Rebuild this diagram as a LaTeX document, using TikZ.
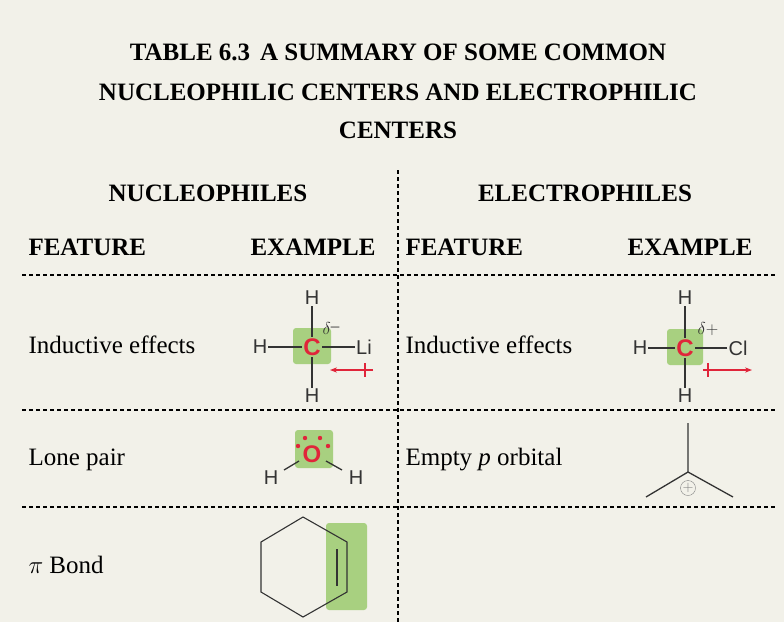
\documentclass[tikz,border=0pt]{standalone}
\usepackage{fontspec}
\setmainfont{Liberation Serif}
\newfontfamily\sans{Liberation Sans}
\usetikzlibrary{arrows.meta}
\definecolor{bg}{HTML}{F2F1E9}
\definecolor{gr}{HTML}{A8D080}
\definecolor{rd}{HTML}{E0253A}
\definecolor{bd}{HTML}{333333}
\begin{document}
\begin{tikzpicture}[x=1pt,y=-1pt,
  dsh/.style={black,line width=1.2pt,dash pattern=on 4pt off 3pt},
  title/.style={font=\bfseries\fontsize{25}{28}\selectfont},
  head/.style={font=\bfseries\fontsize{25}{28}\selectfont},
  txt/.style={font=\fontsize{25}{28}\selectfont,anchor=west},
  atm/.style={font=\sans\fontsize{20}{22}\selectfont,text=bd,inner sep=1pt},
  cat/.style={font=\sans\bfseries\fontsize{24}{26}\selectfont,text=rd,inner sep=1pt},
  bond/.style={bd,line width=1.3pt},
  glow/.style={fill=gr,rounded corners=3pt}]
\useasboundingbox (0,0) rectangle (784,622);
\fill[bg] (0,0) rectangle (784,622);
\node[title] (t1) at (398,52) {TABLE 6.3\hspace{10pt}A SUMMARY OF SOME COMMON};
\node[title] (t2) at (398,92) {NUCLEOPHILIC CENTERS AND ELECTROPHILIC};
\node[title] (t3) at (398,130) {CENTERS};
\node[head] (hn) at (208,193) {NUCLEOPHILES};
\node[head] (he) at (585,193) {ELECTROPHILES};
\node[head,anchor=west] (f1) at (25,247) {FEATURE};
\node[head] (e1) at (313,247) {EXAMPLE};
\node[head,anchor=west] (f2) at (402,247) {FEATURE};
\node[head] (e2) at (690,247) {EXAMPLE};
\draw[dsh] (22,275) -- (775,275);
\draw[dsh] (22,410) -- (775,410);
\draw[dsh] (22,507) -- (775,507);
\draw[dsh] (398,170) -- (398,622);
\node[txt] (r1) at (25,345) {Inductive effects};
\node[txt] (r2) at (25,460) {Lone pair};
\node[txt] (r3) at (25,565) {$\pi$ Bond};
\node[txt] (r4) at (402,345) {Inductive effects};
\node[txt] (r5) at (402,460) {Empty \textit{p} orbital};
% molecule 1
\fill[glow] (293,328) rectangle (331,364);
\node[cat] (c1) at (312,347) {C};
\node[atm] (h1t) at (312,298) {H};
\node[atm] (h1b) at (312,396) {H};
\node[atm] (h1l) at (260,347) {H};
\node[atm] (li) at (364,347) {Li};
\draw[bond] (h1t) -- (c1); \draw[bond] (h1b) -- (c1);
\draw[bond] (h1l) -- (c1); \draw[bond] (li) -- (c1);
\node[atm,font=\fontsize{17}{18}\selectfont] (d1) at (331,328) {$\delta$\raisebox{3pt}{--}};
\coordinate (a1s) at (373,370); \coordinate (a1e) at (330,370);
\draw[rd,line width=1.2pt,-{Stealth[length=7pt]}] (a1s) -- (a1e);
\draw[rd,line width=1.2pt] (365,363) -- (365,377);
% molecule 2
\fill[glow] (667,329) rectangle (703,365);
\node[cat] (c2) at (685,348) {C};
\node[atm] (h2t) at (685,298) {H};
\node[atm] (h2b) at (685,396) {H};
\node[atm] (h2l) at (640,348) {H};
\node[atm] (cl) at (738,348) {Cl};
\draw[bond] (h2t) -- (c2); \draw[bond] (h2b) -- (c2);
\draw[bond] (h2l) -- (c2); \draw[bond] (cl) -- (c2);
\node[atm,font=\fontsize{17}{18}\selectfont] (d2) at (708,329) {$\delta{+}$};
\coordinate (a2s) at (703,370); \coordinate (a2e) at (752,370);
\draw[rd,line width=1.2pt,-{Stealth[length=7pt]}] (a2s) -- (a2e);
\draw[rd,line width=1.2pt] (708,363) -- (708,377);
% water
\fill[glow] (295,430) rectangle (333,468);
\node[cat] (o) at (312,454) {O};
\node[atm] (hw1) at (271,478) {H};
\node[atm] (hw2) at (356,478) {H};
\draw[bond] (284,470) -- (299,461);
\draw[bond] (326,461) -- (342,470);
\foreach \p in {(305,438),(320,438),(298,446),(328,446)} \fill[rd] \p circle (2.2pt);
% carbocation
\coordinate (cc) at (688,472);
\coordinate (ct) at (688,423);
\coordinate (cl2) at (646,497);
\coordinate (cr2) at (733,497);
\draw[bond] (ct) -- (cc) -- (cl2); \draw[bond] (cc) -- (cr2);
\node[draw=gray,circle,inner sep=0pt,minimum size=15pt,font=\fontsize{14}{14}\selectfont,text=gray] (pl) at (688,488) {$+$};
% cyclohexene
\fill[glow] (326,523) rectangle (367,610);
\draw[bd,line width=1.1pt] (303,517) -- (347,542) -- (347,592) -- (303,617) -- (261,592) -- (261,542) -- cycle;
\draw[bd,line width=1.4pt] (337,549) -- (337,586);
\end{tikzpicture}
\end{document}
